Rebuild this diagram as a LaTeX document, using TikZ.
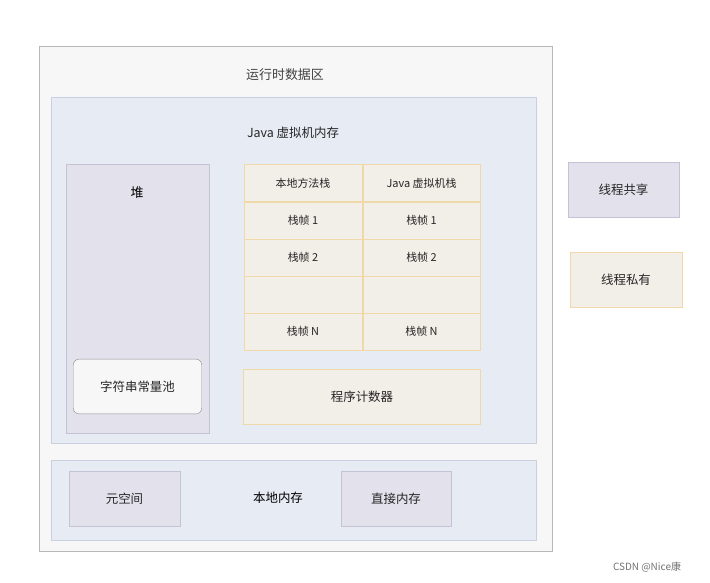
\documentclass[tikz,border=0pt]{standalone}
\usepackage{fontspec}
\setmainfont{Noto Sans CJK SC}
\usetikzlibrary{positioning}
\definecolor{areafill}{HTML}{F7F7F7}
\definecolor{arealine}{HTML}{B8B8B8}
\definecolor{jvmfill}{HTML}{E6EBF4}
\definecolor{jvmline}{HTML}{C9D0E0}
\definecolor{sharefill}{HTML}{E3E1EC}
\definecolor{shareline}{HTML}{C6C2D6}
\definecolor{privfill}{HTML}{F2EEE8}
\definecolor{privline}{HTML}{EFD9A8}
\tikzset{
  box/.style={draw, inner sep=0pt, font=\fontsize{12.5}{14}\selectfont, text=black!85},
  shared/.style={box, fill=sharefill, draw=shareline},
  private/.style={box, fill=privfill, draw=privline},
  cell/.style={private, minimum width=118, minimum height=37, font=\fontsize{11}{13}\selectfont}
}
\begin{document}
\begin{tikzpicture}[x=1bp,y=-1bp]
\useasboundingbox (0,0) rectangle (710,583);
% runtime data area
\node (area) [box, fill=areafill, draw=arealine, minimum width=515, minimum height=507] at (295.5,298.5) {};
\node (areatitle) [font=\fontsize{13}{15}\selectfont, text=black!75] at (285,75) {运行时数据区};
% jvm memory
\node (jvm) [box, fill=jvmfill, draw=jvmline, minimum width=487, minimum height=347] at (293.5,270.5) {};
\node (jvmtitle) [font=\fontsize{12.5}{15}\selectfont, text=black!85] at (293,133) {Java 虚拟机内存};
% heap
\node (heap) [shared, minimum width=143, minimum height=270] at (137.5,299) {};
\node (heaptitle) [font=\fontsize{13}{15}\selectfont] at (137,193) {堆};
\node (pool) [box, fill=areafill, draw=black!45, rounded corners=6, minimum width=129, minimum height=55] at (137.5,386.5) {字符串常量池};
% stacks
\node (c11) [cell] at (303,183) {本地方法栈};
\node (c12) [cell] at (421.5,183) {Java 虚拟机栈};
\node (c21) [cell] at (303,220.5) {栈帧 1};
\node (c22) [cell] at (421.5,220.5) {栈帧 1};
\node (c31) [cell] at (303,257.5) {栈帧 2};
\node (c32) [cell] at (421.5,257.5) {栈帧 2};
\node (c41) [cell] at (303,294.5) {};
\node (c42) [cell] at (421.5,294.5) {};
\node (c51) [cell] at (303,331.5) {栈帧 N};
\node (c52) [cell] at (421.5,331.5) {栈帧 N};
\node (pc) [private, minimum width=238, minimum height=55] at (362,396.5) {程序计数器};
% native memory
\node (native) [box, fill=jvmfill, draw=jvmline, minimum width=487, minimum height=80] at (293.5,500) {};
\node (nativetitle) [font=\fontsize{12.5}{14}\selectfont] at (278,498) {本地内存};
\node (meta) [shared, minimum width=111, minimum height=55] at (124.5,498.5) {元空间};
\node (direct) [shared, minimum width=110, minimum height=55] at (396,498.5) {直接内存};
% legend
\node (shr) [shared, minimum width=111, minimum height=55] at (623.5,189.5) {线程共享};
\node (prv) [private, minimum width=112, minimum height=55] at (626,279.5) {线程私有};
\node (mark) [font=\fontsize{10}{12}\selectfont, text=black!55] at (647,567) {CSDN @Nice康};
\end{tikzpicture}
\end{document}
